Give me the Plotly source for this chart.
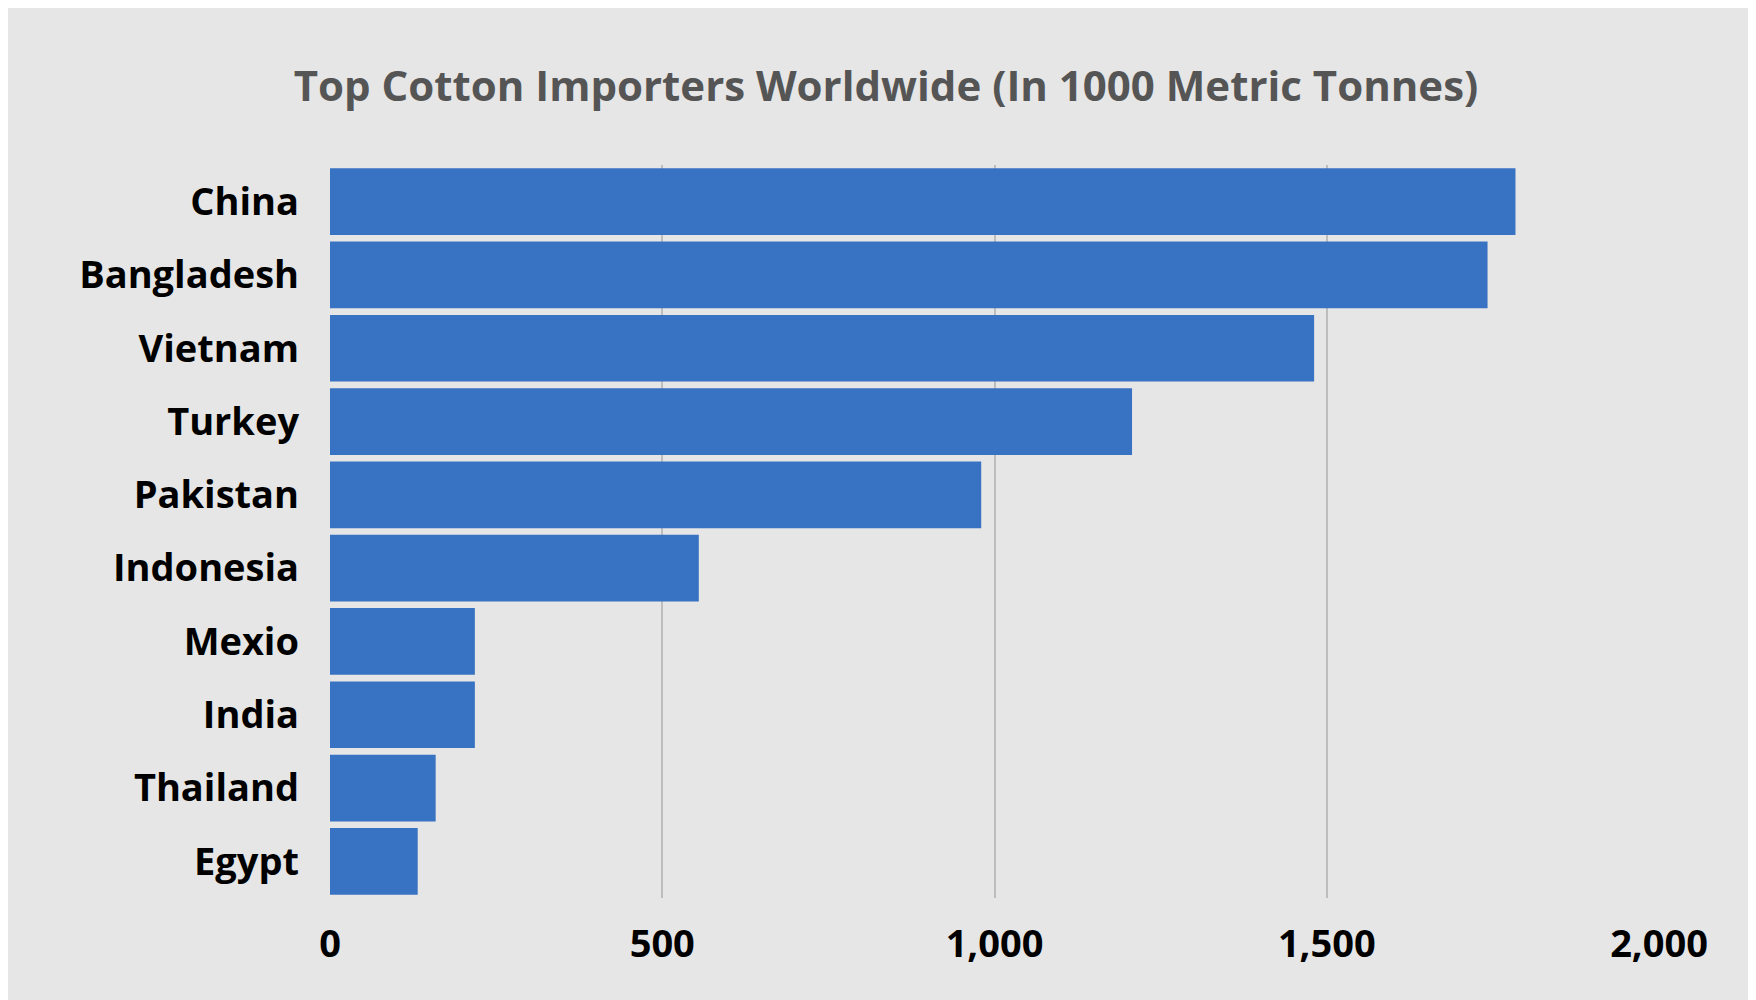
import plotly.graph_objects as go

countries = ["China", "Bangladesh", "Vietnam", "Turkey", "Pakistan", "Indonesia", "Mexio", "India", "Thailand", "Egypt"]
imports = [1784, 1742, 1481, 1207, 980, 555, 218, 218, 159, 132]
tick_vals = [0, 500, 1000, 1500, 2000]
tick_text = ["0", "500", "1,000", "1,500", "2,000"]

fig = go.Figure(go.Bar(
    x=imports, y=countries, orientation="h",
    marker=dict(color="#3872c2", line=dict(width=0)),
))
fig.update_layout(
    width=1756, height=1000,
    paper_bgcolor="#e6e6e6", plot_bgcolor="#e6e6e6",
    margin=dict(l=322, r=105, t=157, b=110),
    bargap=0.09,
    title=dict(text="<b>Top Cotton Importers Worldwide (In 1000 Metric Tonnes)</b>",
               x=0.5, xanchor="center", y=0.922, yanchor="middle",
               font=dict(family="Open Sans", size=42, color="#555555")),
    showlegend=False,
)
fig.update_xaxes(range=[0, 2000], tickvals=tick_vals, ticktext=tick_text,
                 showgrid=True, gridcolor="#bdbdbd", gridwidth=1.5, zeroline=False,
                 tickfont=dict(family="Open Sans", size=38, color="black", weight="bold"),
                 ticklabelstandoff=20)
fig.update_yaxes(autorange="reversed", showgrid=False,
                 tickfont=dict(family="Open Sans", size=38, color="black", weight="bold"),
                 ticklabelstandoff=30)
fig.write_html("out.html")
